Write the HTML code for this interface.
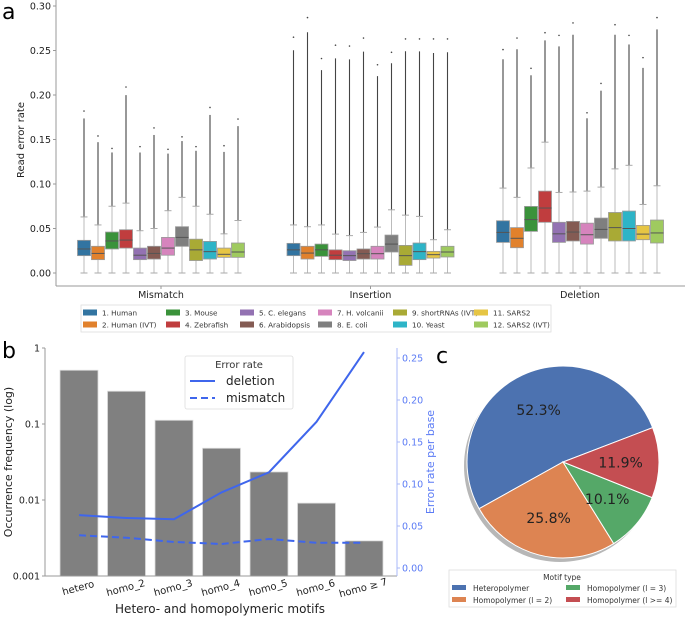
<!DOCTYPE html>
<html><head><meta charset="utf-8"><style>
body{margin:0;background:#fff;}
svg{display:block;font-family:"DejaVu Sans","Liberation Sans",sans-serif;}
</style></head><body>
<svg id="fig" width="685" height="617" viewBox="0 0 685 617"></svg>
<script>
// ---------- Panel a data ----------
const groups = ["Mismatch","Insertion","Deletion"];
const species = ["1. Human","2. Human (IVT)","3. Mouse","4. Zebrafish","5. C. elegans","6. Arabidopsis","7. H. volcanii","8. E. coli","9. shortRNAs (IVT)","10. Yeast","11. SARS2","12. SARS2 (IVT)"];
const aColors = ["#3274a1","#e1812c","#3a923a","#c03d3e","#9372b2","#845b53","#d684bd","#7f7f7f","#a9aa35","#2eb4c7","#e6c544","#9fca5f"];
const medians = [
 [.027,.022,.036,.037,.020,.022,.028,.040,.026,.024,.021,.0236],
 [.026,.0224,.026,.020,.0195,.0217,.0217,.0325,.0195,.024,.0206,.0236],
 [.0456,.039,.060,.073,.044,.046,.043,.049,.051,.050,.0437,.045]];
const q1s = [
 [.0195,.015,.027,.028,.015,.0157,.020,.030,.014,.0157,.0176,.0176],
 [.0195,.0157,.0187,.015,.014,.0157,.0157,.0236,.0086,.015,.0168,.018],
 [.0344,.0284,.0468,.057,.0344,.036,.0325,.039,.036,.036,.0374,.0337]];
const q3s = [
 [.0367,.030,.046,.0486,.028,.030,.040,.052,.038,.0355,.028,.0337],
 [.0333,.030,.0325,.026,.025,.027,.030,.0426,.031,.0337,.0243,.030],
 [.0587,.051,.0748,.092,.057,.058,.056,.0617,.068,.0696,.0535,.0595]];
const whiskHi = [
 [.063,.054,.075,.0785,.0475,.050,.070,.085,.075,.066,.044,.059],
 [.054,.052,.054,.0437,.042,.0456,.0516,.071,.065,.0636,.0374,.0486],
 [.0954,.085,.118,.147,.0905,.091,.092,.0965,.117,.121,.077,.098]];
const maxOut = [
 [.182,.154,.140,.209,.142,.163,.139,.153,.142,.186,.143,.173],
 [.265,.287,.241,.256,.255,.264,.234,.248,.263,.263,.263,.263],
 [.251,.264,.230,.270,.267,.281,.180,.213,.279,.267,.242,.287]];
const aTicks = [0,0.05,0.10,0.15,0.20,0.25,0.30];
const aTickLabels = ["0.00","0.05","0.10","0.15","0.20","0.25","0.30"];

// ---------- Panel b data ----------
const motifs = ["hetero","homo_2","homo_3","homo_4","homo_5","homo_6","homo ≥ 7"];
const occurrence = [0.51,0.27,0.112,0.048,0.0234,0.0091,0.0029];
const delRate = [0.063,0.0595,0.058,0.090,0.114,0.174,0.257];
const misRate = [0.039,0.036,0.031,0.0286,0.0345,0.030,0.030];
const bLeftTicks = [1,0.1,0.01,0.001];
const bLeftLabels = ["1","0.1","0.01","0.001"];
const bRightTicks = [0,0.05,0.10,0.15,0.20,0.25];
const bRightLabels = ["0.00","0.05","0.10","0.15","0.20","0.25"];

// ---------- Panel c data ----------
const pieLabels = ["Heteropolymer","Homopolymer (l = 2)","Homopolymer (l = 3)","Homopolymer (l >= 4)"];
const pieValues = [52.3,25.8,10.1,11.9];
const pieColors = ["#4c72b0","#dd8452","#55a868","#c44e52"];

const NS="http://www.w3.org/2000/svg";
const svg=document.getElementById('fig');
function el(tag,attrs,parent,text){const e=document.createElementNS(NS,tag);for(const k in attrs)e.setAttribute(k,attrs[k]);if(text!==undefined)e.textContent=text;(parent||svg).appendChild(e);return e;}

// ===== Panel a =====
const ya=v=>273-v*890;
const groupCenter=g=>161+g*209.5;
const boxX=(g,i)=>groupCenter(g)+(i-5.5)*14;
let t=el('text',{x:2,y:19,'font-size':22});t.textContent='a';

let ax=el('line',{x1:56,y1:0,x2:56,y2:286,stroke:'#999','stroke-width':1});

let bx=el('line',{x1:56,y1:286,x2:685,y2:286,stroke:'#999','stroke-width':1});

aTicks.forEach((v,k)=>{
  el('line',{x1:53,x2:56,y1:ya(v),y2:ya(v),stroke:'#999'});
  const tl=el('text',{x:51,y:ya(v)+3.5,'font-size':9.5,'text-anchor':'end',fill:'#222'},null,aTickLabels[k]);
  
});
let yt=el('text',{transform:'translate(24,140) rotate(-90)','font-size':10,'text-anchor':'middle',fill:'#222'},null,'Read error rate');

groups.forEach((gname,g)=>{
  const gl=el('text',{x:groupCenter(g),y:298,'font-size':9.5,'text-anchor':'middle',fill:'#222'},null,gname);
  
  el('line',{x1:groupCenter(g),x2:groupCenter(g),y1:286,y2:289,stroke:'#999'});
  species.forEach((s,i)=>{
    const x=boxX(g,i),w=13;
    const gg=el('g',{});
    
    
    el('line',{x1:x,x2:x,y1:ya(whiskHi[g][i]),y2:ya(maxOut[g][i]*0.93+whiskHi[g][i]*0.07),stroke:'#444','stroke-width':1.1},gg);
    el('circle',{cx:x,cy:ya(maxOut[g][i]),r:0.8,fill:'#444'},gg);
    el('line',{x1:x,x2:x,y1:ya(0),y2:ya(q1s[g][i]),stroke:'#bbb','stroke-width':1},gg);
    el('line',{x1:x,x2:x,y1:ya(q3s[g][i]),y2:ya(whiskHi[g][i]),stroke:'#bbb','stroke-width':1},gg);
    el('line',{x1:x-3.5,x2:x+3.5,y1:ya(0),y2:ya(0),stroke:'#aaa','stroke-width':1},gg);
    el('line',{x1:x-3.5,x2:x+3.5,y1:ya(whiskHi[g][i]),y2:ya(whiskHi[g][i]),stroke:'#aaa','stroke-width':1},gg);
    el('rect',{x:x-w/2,y:ya(q3s[g][i]),width:w,height:ya(q1s[g][i])-ya(q3s[g][i]),fill:aColors[i],stroke:'#999','stroke-width':0.8},gg);
    el('line',{x1:x-w/2,x2:x+w/2,y1:ya(medians[g][i]),y2:ya(medians[g][i]),stroke:'#555','stroke-width':1},gg);
  });
});
const lg=el('g',{});
el('rect',{x:81,y:305,width:470,height:27,fill:'#fff',stroke:'#ddd','stroke-width':0.8},lg);
const colX=[83,166,240,318,393,474];
species.forEach((s,i)=>{
  const c=Math.floor(i/2),r=i%2;
  const yy=r?325:313;
  const e=el('g',{},lg);
  
  el('rect',{x:colX[c],y:yy-3.5,width:14,height:6,fill:aColors[i]},e);
  el('text',{x:colX[c]+19,y:yy+2.5,'font-size':7.2,fill:'#333'},e,s);
});

// ===== Panel b =====
const yb=v=>576-(Math.log10(v)+3)*76;
const yr=v=>568-v/0.05*42;
const xb=i=>79+i*47.5;
t=el('text',{x:2,y:358,'font-size':22},null,'b');

occurrence.forEach((v,i)=>{
  const r=el('rect',{x:xb(i)-19,y:yb(v),width:38,height:576-yb(v),fill:'#808080',stroke:'#ddd','stroke-width':0.8});
  
  const tl=el('text',{transform:`translate(${xb(i)},${591}) rotate(-15)`,'font-size':10,'text-anchor':'middle',fill:'#222'},null,motifs[i]);
  
});
el('line',{x1:45,y1:348,x2:45,y2:576,stroke:'#999'});
el('line',{x1:45,y1:576,x2:397,y2:576,stroke:'#999'});
el('line',{x1:397,y1:348,x2:397,y2:576,stroke:'#a8b8f8'});
bLeftTicks.forEach((v,k)=>{
  el('line',{x1:42,x2:45,y1:yb(v),y2:yb(v),stroke:'#999'});
  const tl=el('text',{x:40,y:yb(v)+3.5,'font-size':9.5,'text-anchor':'end',fill:'#222'},null,bLeftLabels[k]);
  
});
bRightTicks.forEach((v,k)=>{
  el('line',{x1:397,x2:400,y1:yr(v),y2:yr(v),stroke:'#a8b8f8'});
  const tl=el('text',{x:402,y:yr(v)+3.5,'font-size':9.5,fill:'#5b7bf5'},null,bRightLabels[k]);
  
});
t=el('text',{transform:'translate(12,462) rotate(-90)','font-size':11,'text-anchor':'middle',fill:'#222'},null,'Occurrence frequency (log)');

t=el('text',{transform:'translate(434,462) rotate(-90)','font-size':11,'text-anchor':'middle',fill:'#5b7bf5'},null,'Error rate per base');

t=el('text',{x:220,y:613,'font-size':12,'text-anchor':'middle',fill:'#222'},null,'Hetero- and homopolymeric motifs');

let p=el('polyline',{points:delRate.map((v,i)=>xb(i)+','+yr(v)).join(' '),fill:'none',stroke:'#3f66ec','stroke-width':2});

p=el('polyline',{points:misRate.map((v,i)=>xb(i)+','+yr(v)).join(' '),fill:'none',stroke:'#3f66ec','stroke-width':2,'stroke-dasharray':'7,4'});

const bl=el('g',{});
el('rect',{x:185,y:356,width:108,height:53,fill:'#fff','fill-opacity':0.85,stroke:'#ddd','stroke-width':0.8,rx:2},bl);
el('text',{x:239,y:368,'font-size':10,'text-anchor':'middle',fill:'#333'},bl,'Error rate');
el('line',{x1:190,x2:215,y1:381,y2:381,stroke:'#3f66ec','stroke-width':2},bl);
el('text',{x:226,y:385,'font-size':12,fill:'#222'},bl,'deletion');
el('line',{x1:190,x2:215,y1:398,y2:398,stroke:'#3f66ec','stroke-width':2,'stroke-dasharray':'7,4'},bl);
el('text',{x:226,y:402,'font-size':12,fill:'#222'},bl,'mismatch');

// ===== Panel c =====
t=el('text',{x:436,y:363,'font-size':22},null,'c');

const cx=563,cy=462,R=96;
el('circle',{cx:cx-3,cy:cy+4,r:R,fill:'#999','fill-opacity':0.7});
const total=pieValues.reduce((a,b)=>a+b,0);
let ang=21;
pieValues.forEach((v,i)=>{
  const sweep=v/total*360,a0=ang*Math.PI/180,a1=(ang+sweep)*Math.PI/180;
  const x0=cx+R*Math.cos(a0),y0=cy-R*Math.sin(a0),x1=cx+R*Math.cos(a1),y1=cy-R*Math.sin(a1);
  const s=el('path',{d:`M${cx},${cy} L${x0},${y0} A${R},${R} 0 ${sweep>180?1:0} 0 ${x1},${y1} Z`,fill:pieColors[i],stroke:'#fff','stroke-width':1});
  
  const am=(ang+sweep/2)*Math.PI/180;
  const lt=el('text',{x:cx+0.6*R*Math.cos(am),y:cy-0.6*R*Math.sin(am)+5,'font-size':14,'text-anchor':'middle',fill:'#222'},null,v.toFixed(1)+'%');
  
  ang+=sweep;
});
const cl=el('g',{});
el('rect',{x:449,y:570,width:227,height:37,fill:'#fff',stroke:'#ddd','stroke-width':0.8},cl);
el('text',{x:562,y:580,'font-size':7.5,'text-anchor':'middle',fill:'#333'},cl,'Motif type');
const cpos=[[452,588],[452,600],[566,588],[566,600]];
pieLabels.forEach((s,i)=>{
  const e=el('g',{},cl);
  
  el('rect',{x:cpos[i][0],y:cpos[i][1]-3,width:14,height:5,fill:pieColors[i]},e);
  el('text',{x:cpos[i][0]+21,y:cpos[i][1]+3,'font-size':7.5,fill:'#333'},e,s);
});
</script>
</body></html>
